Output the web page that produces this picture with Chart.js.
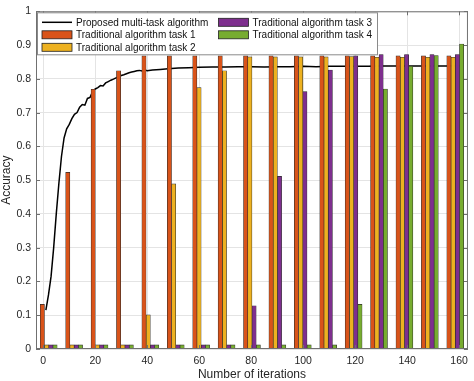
<!DOCTYPE html>
<html><head><meta charset="utf-8">
<script src="https://cdn.jsdelivr.net/npm/chart.js@4.4.1/dist/chart.umd.min.js"></script>
<style>html,body{margin:0;padding:0;background:#fff;}canvas{display:block;}</style>
</head><body>
<canvas id="c" width="474" height="381"></canvas>
<script>
// ---- data ----
const groupLabels = ['0','10','20','30','40','50','60','70','80','90','100','110','120','130','140','150','160'];
const task1 = [0.132,0.523,0.769,0.824,0.868,0.868,0.868,0.868,0.868,0.868,0.868,0.868,0.868,0.868,0.868,0.868,0.868];
const task2 = [0.012,0.012,0.012,0.012,0.101,0.489,0.774,0.824,0.865,0.865,0.865,0.865,0.866,0.864,0.864,0.864,0.864];
const task3 = [0.012,0.012,0.012,0.012,0.012,0.012,0.012,0.012,0.128,0.511,0.762,0.826,0.868,0.872,0.872,0.872,0.872];
const task4 = [0.012,0.012,0.012,0.012,0.012,0.012,0.012,0.012,0.012,0.012,0.012,0.012,0.132,0.770,0.837,0.869,0.903];
const iterations = [1,2,3,4,5,6,7,8,9,10,11,12,13,14,15,16,17,18,19,20,21,22,23,24,25,26,27,28,29,30,31,32,33,34,35,36,37,38,39,40,42,45,48,52,56,60,65,70,75,80,85,90,95,100,105,110,115,120,125,130,135,140,145,150,155,160];
const accuracy = [0.115,0.160,0.215,0.300,0.400,0.490,0.570,0.625,0.652,0.665,0.682,0.695,0.700,0.716,0.724,0.722,0.742,0.745,0.763,0.770,0.774,0.780,0.779,0.788,0.792,0.796,0.799,0.803,0.806,0.810,0.812,0.815,0.818,0.820,0.822,0.824,0.825,0.823,0.826,0.824,0.826,0.828,0.830,0.832,0.833,0.834,0.835,0.835,0.836,0.836,0.835,0.836,0.836,0.837,0.836,0.837,0.837,0.837,0.837,0.838,0.838,0.838,0.838,0.838,0.838,0.839];
const xTicks = [0,20,40,60,80,100,120,140,160];
const yTicks = [0,0.1,0.2,0.3,0.4,0.5,0.6,0.7,0.8,0.9,1];
const seriesNames = ['Proposed multi-task algorithm','Traditional algorithm task 1','Traditional algorithm task 2','Traditional algorithm task 3','Traditional algorithm task 4'];
const seriesColors = ['#000000','#D95319','#EDB120','#7E2F8E','#77AC30'];
const xTitle = 'Number of iterations';
const yTitle = 'Accuracy';

// ---- grouped-bar table: each group = [gap, task1, task2, task3, task4, gap] slots ----
const SLOTS = [0,1,2,3,4,5];
const slotLabels = groupLabels.flatMap(g => SLOTS.map(s => g + ':' + s));
const slotData = (vals, k) => vals.flatMap(v => SLOTS.map(s => (s === k ? v : null)));

// ---- styling ----
const FONT = "'Liberation Sans', Arial, Helvetica, sans-serif";
const AXIS = '#707070';
const TEXT = '#262626';

const frame = {
  id: 'frame',
  afterDraw(chart) {
    const {ctx, chartArea: a, scales} = chart;
    ctx.save();
    ctx.strokeStyle = AXIS; ctx.lineWidth = 1;
    ctx.beginPath();
    xTicks.forEach(v => {
      const px = Math.round(scales.x.getPixelForValue(v)) + 0.5;
      ctx.moveTo(px, a.bottom); ctx.lineTo(px, a.bottom - 4);
      ctx.moveTo(px, a.top); ctx.lineTo(px, a.top + 4);
    });
    yTicks.forEach(v => {
      const py = Math.round(scales.y.getPixelForValue(v)) + 0.5;
      ctx.moveTo(a.left, py); ctx.lineTo(a.left + 4, py);
      ctx.moveTo(a.right, py); ctx.lineTo(a.right - 4, py);
    });
    ctx.stroke();
    ctx.strokeRect(a.left + 0.5, a.top + 0.5, a.right - a.left - 1, a.bottom - a.top - 1);

    // legend (2 columns, column-major)
    const bx = a.left + 1.5, by = a.top + 1.5, bw = 340, bh = 42;
    ctx.fillStyle = '#ffffff';
    ctx.fillRect(bx, by, bw, bh);
    ctx.strokeStyle = '#8a8a8a';
    ctx.strokeRect(bx, by, bw, bh);
    const ds = chart.data.datasets;
    const slots = [[0,0],[0,1],[0,2],[1,0],[1,1]];
    const colX = [bx + 4.5, bx + 181];
    const rowY = [by + 9.5, by + 22, by + 34.5];
    ctx.font = '10px ' + FONT;
    ctx.textBaseline = 'middle';
    ds.forEach((d, i) => {
      const [c, r] = slots[i];
      const x0 = colX[c], y0 = rowY[r];
      if (d.type === 'line') {
        ctx.strokeStyle = d.borderColor; ctx.lineWidth = 1.5;
        ctx.beginPath(); ctx.moveTo(x0, y0); ctx.lineTo(x0 + 30, y0); ctx.stroke();
      } else {
        ctx.fillStyle = d.backgroundColor;
        ctx.fillRect(x0, y0 - 4, 30, 8);
        ctx.strokeStyle = '#222'; ctx.lineWidth = 0.8;
        ctx.strokeRect(x0, y0 - 4, 30, 8);
      }
      ctx.fillStyle = '#111';
      ctx.fillText(d.label, x0 + 34, y0 + 0.5);
    });
    ctx.restore();
  }
};

function barSet(k, vals) {
  return {
    type: 'bar', label: seriesNames[k], data: slotData(vals, k), xAxisID: 'xb', yAxisID: 'y',
    grouped: false, barThickness: 4.2,
    backgroundColor: seriesColors[k], borderColor: '#2a2a2a', borderWidth: 0.6,
    borderSkipped: false, order: 0
  };
}

new Chart(document.getElementById('c'), {
  type: 'bar',
  data: {
    labels: slotLabels,
    datasets: [
      {
        type: 'line', label: seriesNames[0],
        data: iterations.map((v, k) => ({x: v, y: accuracy[k]})),
        xAxisID: 'x', yAxisID: 'y', borderColor: seriesColors[0], borderWidth: 1.5,
        pointRadius: 0, tension: 0, fill: false, order: 1
      },
      barSet(1, task1), barSet(2, task2), barSet(3, task3), barSet(4, task4)
    ]
  },
  options: {
    responsive: false, animation: false, devicePixelRatio: 1,
    layout: {padding: {left: 0, top: 4, right: 1, bottom: 0}},
    plugins: {legend: {display: false}, tooltip: {enabled: false}},
    scales: {
      xb: {type: 'category', labels: slotLabels, offset: true, display: false},
      x: {
        type: 'linear', position: 'bottom', min: -2.8, max: 163.4, offset: false,
        afterBuildTicks: s => { s.ticks = xTicks.map(v => ({value: v})); },
        afterFit: s => { s.height = 32; },
        grid: {color: '#e4e4e4', drawTicks: false, offset: false},
        border: {display: false},
        ticks: {color: TEXT, font: {family: FONT, size: 10.5}, padding: 6, maxRotation: 0, autoSkip: false, callback: v => String(v)},
        title: {display: true, text: xTitle, color: TEXT, font: {family: FONT, size: 12, lineHeight: 1}, padding: {top: 0, bottom: 0}}
      },
      y: {
        type: 'linear', min: 0, max: 1, offset: false, stacked: false,
        afterBuildTicks: s => { s.ticks = yTicks.map(v => ({value: v})); },
        afterFit: s => { s.width = 36; },
        grid: {color: '#e4e4e4', drawTicks: false},
        border: {display: false},
        ticks: {color: TEXT, font: {family: FONT, size: 10.5}, padding: 5, autoSkip: false, callback: v => String(Math.round(v * 10) / 10)},
        title: {display: true, text: yTitle, color: TEXT, font: {family: FONT, size: 12, lineHeight: 1}, padding: {top: 1, bottom: 0}}
      }
    }
  },
  plugins: [frame]
});
</script>
</body></html>
